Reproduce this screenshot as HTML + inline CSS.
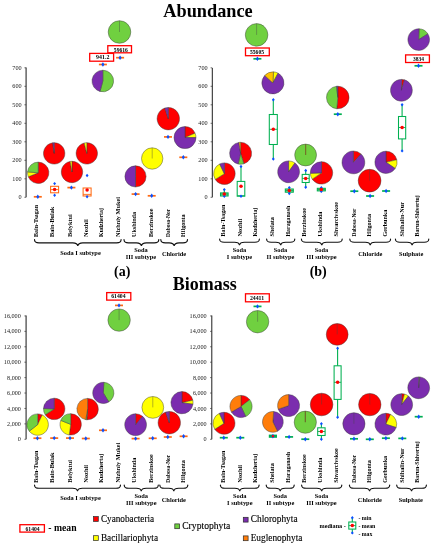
<!DOCTYPE html><html><head><meta charset="utf-8"><title>Abundance and Biomass</title><style>html,body{margin:0;padding:0;background:#fff}svg{display:block}</style></head><body><svg width="433" height="550" viewBox="0 0 433 550"><rect width="433" height="550" fill="#fff"/>
<text x="208" y="16.5" font-size="18.3" font-weight="bold" text-anchor="middle" font-family="Liberation Serif, serif">Abundance</text>
<text x="204.8" y="289.6" font-size="18" font-weight="bold" text-anchor="middle" font-family="Liberation Serif, serif">Biomass</text>
<text x="122.2" y="275.8" font-size="14" font-weight="bold" text-anchor="middle" font-family="Liberation Serif, serif">(a)</text>
<text x="318.2" y="275.8" font-size="14" font-weight="bold" text-anchor="middle" font-family="Liberation Serif, serif">(b)</text>
<line x1="26.1" y1="67.6" x2="26.1" y2="197.3" stroke="#444" stroke-width="1.25"/>
<line x1="24.400000000000002" y1="197.30" x2="26.1" y2="197.30" stroke="#333" stroke-width="0.7"/>
<text x="21.6" y="199.40" font-size="6.2" text-anchor="end" fill="#1c1c1c" font-family="Liberation Serif, serif">0</text>
<line x1="24.400000000000002" y1="178.80" x2="26.1" y2="178.80" stroke="#333" stroke-width="0.7"/>
<text x="21.6" y="180.90" font-size="6.2" text-anchor="end" fill="#1c1c1c" font-family="Liberation Serif, serif">100</text>
<line x1="24.400000000000002" y1="160.30" x2="26.1" y2="160.30" stroke="#333" stroke-width="0.7"/>
<text x="21.6" y="162.40" font-size="6.2" text-anchor="end" fill="#1c1c1c" font-family="Liberation Serif, serif">200</text>
<line x1="24.400000000000002" y1="141.80" x2="26.1" y2="141.80" stroke="#333" stroke-width="0.7"/>
<text x="21.6" y="143.90" font-size="6.2" text-anchor="end" fill="#1c1c1c" font-family="Liberation Serif, serif">300</text>
<line x1="24.400000000000002" y1="123.30" x2="26.1" y2="123.30" stroke="#333" stroke-width="0.7"/>
<text x="21.6" y="125.40" font-size="6.2" text-anchor="end" fill="#1c1c1c" font-family="Liberation Serif, serif">400</text>
<line x1="24.400000000000002" y1="104.80" x2="26.1" y2="104.80" stroke="#333" stroke-width="0.7"/>
<text x="21.6" y="106.90" font-size="6.2" text-anchor="end" fill="#1c1c1c" font-family="Liberation Serif, serif">500</text>
<line x1="24.400000000000002" y1="86.30" x2="26.1" y2="86.30" stroke="#333" stroke-width="0.7"/>
<text x="21.6" y="88.40" font-size="6.2" text-anchor="end" fill="#1c1c1c" font-family="Liberation Serif, serif">600</text>
<line x1="24.400000000000002" y1="67.80" x2="26.1" y2="67.80" stroke="#333" stroke-width="0.7"/>
<text x="21.6" y="69.90" font-size="6.2" text-anchor="end" fill="#1c1c1c" font-family="Liberation Serif, serif">700</text>
<line x1="212.3" y1="68" x2="212.3" y2="197.3" stroke="#111" stroke-width="0.95"/>
<line x1="210.60000000000002" y1="197.30" x2="212.3" y2="197.30" stroke="#333" stroke-width="0.7"/>
<text x="207.6" y="199.40" font-size="6.2" text-anchor="end" fill="#1c1c1c" font-family="Liberation Serif, serif">0</text>
<line x1="210.60000000000002" y1="178.80" x2="212.3" y2="178.80" stroke="#333" stroke-width="0.7"/>
<text x="207.6" y="180.90" font-size="6.2" text-anchor="end" fill="#1c1c1c" font-family="Liberation Serif, serif">100</text>
<line x1="210.60000000000002" y1="160.30" x2="212.3" y2="160.30" stroke="#333" stroke-width="0.7"/>
<text x="207.6" y="162.40" font-size="6.2" text-anchor="end" fill="#1c1c1c" font-family="Liberation Serif, serif">200</text>
<line x1="210.60000000000002" y1="141.80" x2="212.3" y2="141.80" stroke="#333" stroke-width="0.7"/>
<text x="207.6" y="143.90" font-size="6.2" text-anchor="end" fill="#1c1c1c" font-family="Liberation Serif, serif">300</text>
<line x1="210.60000000000002" y1="123.30" x2="212.3" y2="123.30" stroke="#333" stroke-width="0.7"/>
<text x="207.6" y="125.40" font-size="6.2" text-anchor="end" fill="#1c1c1c" font-family="Liberation Serif, serif">400</text>
<line x1="210.60000000000002" y1="104.80" x2="212.3" y2="104.80" stroke="#333" stroke-width="0.7"/>
<text x="207.6" y="106.90" font-size="6.2" text-anchor="end" fill="#1c1c1c" font-family="Liberation Serif, serif">500</text>
<line x1="210.60000000000002" y1="86.30" x2="212.3" y2="86.30" stroke="#333" stroke-width="0.7"/>
<text x="207.6" y="88.40" font-size="6.2" text-anchor="end" fill="#1c1c1c" font-family="Liberation Serif, serif">600</text>
<line x1="210.60000000000002" y1="67.80" x2="212.3" y2="67.80" stroke="#333" stroke-width="0.7"/>
<text x="207.6" y="69.90" font-size="6.2" text-anchor="end" fill="#1c1c1c" font-family="Liberation Serif, serif">700</text>
<line x1="26.1" y1="315.5" x2="26.1" y2="439.3" stroke="#444" stroke-width="1.25"/>
<line x1="24.400000000000002" y1="439.30" x2="26.1" y2="439.30" stroke="#333" stroke-width="0.7"/>
<text x="20.8" y="441.40" font-size="6.2" text-anchor="end" fill="#1c1c1c" font-family="Liberation Serif, serif">0</text>
<line x1="24.400000000000002" y1="423.88" x2="26.1" y2="423.88" stroke="#333" stroke-width="0.7"/>
<text x="20.8" y="425.98" font-size="6.2" text-anchor="end" fill="#1c1c1c" textLength="13.7" lengthAdjust="spacingAndGlyphs" font-family="Liberation Serif, serif">2,000</text>
<line x1="24.400000000000002" y1="408.46" x2="26.1" y2="408.46" stroke="#333" stroke-width="0.7"/>
<text x="20.8" y="410.56" font-size="6.2" text-anchor="end" fill="#1c1c1c" textLength="13.7" lengthAdjust="spacingAndGlyphs" font-family="Liberation Serif, serif">4,000</text>
<line x1="24.400000000000002" y1="393.04" x2="26.1" y2="393.04" stroke="#333" stroke-width="0.7"/>
<text x="20.8" y="395.14" font-size="6.2" text-anchor="end" fill="#1c1c1c" textLength="13.7" lengthAdjust="spacingAndGlyphs" font-family="Liberation Serif, serif">6,000</text>
<line x1="24.400000000000002" y1="377.62" x2="26.1" y2="377.62" stroke="#333" stroke-width="0.7"/>
<text x="20.8" y="379.72" font-size="6.2" text-anchor="end" fill="#1c1c1c" textLength="13.7" lengthAdjust="spacingAndGlyphs" font-family="Liberation Serif, serif">8,000</text>
<line x1="24.400000000000002" y1="362.20" x2="26.1" y2="362.20" stroke="#333" stroke-width="0.7"/>
<text x="20.8" y="364.30" font-size="6.2" text-anchor="end" fill="#1c1c1c" textLength="17.0" lengthAdjust="spacingAndGlyphs" font-family="Liberation Serif, serif">10,000</text>
<line x1="24.400000000000002" y1="346.78" x2="26.1" y2="346.78" stroke="#333" stroke-width="0.7"/>
<text x="20.8" y="348.88" font-size="6.2" text-anchor="end" fill="#1c1c1c" textLength="17.0" lengthAdjust="spacingAndGlyphs" font-family="Liberation Serif, serif">12,000</text>
<line x1="24.400000000000002" y1="331.36" x2="26.1" y2="331.36" stroke="#333" stroke-width="0.7"/>
<text x="20.8" y="333.46" font-size="6.2" text-anchor="end" fill="#1c1c1c" textLength="17.0" lengthAdjust="spacingAndGlyphs" font-family="Liberation Serif, serif">14,000</text>
<line x1="24.400000000000002" y1="315.94" x2="26.1" y2="315.94" stroke="#333" stroke-width="0.7"/>
<text x="20.8" y="318.04" font-size="6.2" text-anchor="end" fill="#1c1c1c" textLength="17.0" lengthAdjust="spacingAndGlyphs" font-family="Liberation Serif, serif">16,000</text>
<line x1="211.8" y1="315.5" x2="211.8" y2="439.3" stroke="#111" stroke-width="0.95"/>
<line x1="210.10000000000002" y1="439.30" x2="211.8" y2="439.30" stroke="#333" stroke-width="0.7"/>
<text x="206.6" y="441.40" font-size="6.2" text-anchor="end" fill="#1c1c1c" font-family="Liberation Serif, serif">0</text>
<line x1="210.10000000000002" y1="423.88" x2="211.8" y2="423.88" stroke="#333" stroke-width="0.7"/>
<text x="206.6" y="425.98" font-size="6.2" text-anchor="end" fill="#1c1c1c" textLength="13.7" lengthAdjust="spacingAndGlyphs" font-family="Liberation Serif, serif">2,000</text>
<line x1="210.10000000000002" y1="408.46" x2="211.8" y2="408.46" stroke="#333" stroke-width="0.7"/>
<text x="206.6" y="410.56" font-size="6.2" text-anchor="end" fill="#1c1c1c" textLength="13.7" lengthAdjust="spacingAndGlyphs" font-family="Liberation Serif, serif">4,000</text>
<line x1="210.10000000000002" y1="393.04" x2="211.8" y2="393.04" stroke="#333" stroke-width="0.7"/>
<text x="206.6" y="395.14" font-size="6.2" text-anchor="end" fill="#1c1c1c" textLength="13.7" lengthAdjust="spacingAndGlyphs" font-family="Liberation Serif, serif">6,000</text>
<line x1="210.10000000000002" y1="377.62" x2="211.8" y2="377.62" stroke="#333" stroke-width="0.7"/>
<text x="206.6" y="379.72" font-size="6.2" text-anchor="end" fill="#1c1c1c" textLength="13.7" lengthAdjust="spacingAndGlyphs" font-family="Liberation Serif, serif">8,000</text>
<line x1="210.10000000000002" y1="362.20" x2="211.8" y2="362.20" stroke="#333" stroke-width="0.7"/>
<text x="206.6" y="364.30" font-size="6.2" text-anchor="end" fill="#1c1c1c" textLength="17.0" lengthAdjust="spacingAndGlyphs" font-family="Liberation Serif, serif">10,000</text>
<line x1="210.10000000000002" y1="346.78" x2="211.8" y2="346.78" stroke="#333" stroke-width="0.7"/>
<text x="206.6" y="348.88" font-size="6.2" text-anchor="end" fill="#1c1c1c" textLength="17.0" lengthAdjust="spacingAndGlyphs" font-family="Liberation Serif, serif">12,000</text>
<line x1="210.10000000000002" y1="331.36" x2="211.8" y2="331.36" stroke="#333" stroke-width="0.7"/>
<text x="206.6" y="333.46" font-size="6.2" text-anchor="end" fill="#1c1c1c" textLength="17.0" lengthAdjust="spacingAndGlyphs" font-family="Liberation Serif, serif">14,000</text>
<line x1="210.10000000000002" y1="315.94" x2="211.8" y2="315.94" stroke="#333" stroke-width="0.7"/>
<text x="206.6" y="318.04" font-size="6.2" text-anchor="end" fill="#1c1c1c" textLength="17.0" lengthAdjust="spacingAndGlyphs" font-family="Liberation Serif, serif">16,000</text>
<rect x="33.80" y="195.95" width="8" height="1.7" fill="#FF6A13"/>
<path d="M37.80,194.60 L39.35,196.80 L37.80,199.00 L36.25,196.80 Z" fill="#0A50FF"/>
<rect x="50.60" y="186.3" width="8" height="6.50" fill="#fff" stroke="#FF6A13" stroke-width="1.05"/>
<line x1="50.60" y1="189.6" x2="58.60" y2="189.6" stroke="#FF6A13" stroke-width="0.9"/>
<path d="M54.60,181.90 L56.05,183.60 L54.60,185.30 L53.16,183.60 Z" fill="#0A50FF"/>
<path d="M54.60,193.50 L56.05,195.20 L54.60,196.90 L53.16,195.20 Z" fill="#0A50FF"/>
<circle cx="54.6" cy="189.6" r="1.75" fill="#FF0000"/>
<rect x="67.40" y="186.75" width="8" height="1.7" fill="#FF6A13"/>
<path d="M71.40,185.40 L72.95,187.60 L71.40,189.80 L69.85,187.60 Z" fill="#0A50FF"/>
<rect x="83.10" y="188" width="8" height="8.00" fill="#fff" stroke="#FF6A13" stroke-width="1.05"/>
<line x1="83.10" y1="194.4" x2="91.10" y2="194.4" stroke="#FF6A13" stroke-width="0.9"/>
<path d="M87.10,173.80 L88.54,175.50 L87.10,177.20 L85.66,175.50 Z" fill="#0A50FF"/>
<path d="M87.10,195.10 L88.54,196.80 L87.10,198.50 L85.66,196.80 Z" fill="#0A50FF"/>
<circle cx="87.1" cy="190" r="1.75" fill="#FF0000"/>
<rect x="98.90" y="63.65" width="8" height="1.7" fill="#FF6A13"/>
<path d="M102.90,62.30 L104.45,64.50 L102.90,66.70 L101.35,64.50 Z" fill="#0A50FF"/>
<rect x="116.10" y="56.85" width="8" height="1.7" fill="#FF6A13"/>
<path d="M120.10,55.50 L121.65,57.70 L120.10,59.90 L118.55,57.70 Z" fill="#0A50FF"/>
<rect x="131.60" y="193.25" width="8" height="1.7" fill="#FF6A13"/>
<path d="M135.60,191.90 L137.15,194.10 L135.60,196.30 L134.05,194.10 Z" fill="#0A50FF"/>
<rect x="147.70" y="194.95" width="8" height="1.7" fill="#FF6A13"/>
<path d="M151.70,193.60 L153.25,195.80 L151.70,198.00 L150.15,195.80 Z" fill="#0A50FF"/>
<rect x="164.00" y="136.05" width="8" height="1.7" fill="#FF6A13"/>
<path d="M168.00,134.70 L169.55,136.90 L168.00,139.10 L166.45,136.90 Z" fill="#0A50FF"/>
<rect x="179.30" y="156.45" width="8" height="1.7" fill="#FF6A13"/>
<path d="M183.30,155.10 L184.85,157.30 L183.30,159.50 L181.75,157.30 Z" fill="#0A50FF"/>
<path d="M38.20,172.80 L38.20,162.10 A10.7,10.7 0 1 1 28.28,176.81 Z" fill="#FF0000" stroke="#3a3a3a" stroke-width="0.45" stroke-linejoin="round"/>
<path d="M38.20,172.80 L28.28,176.81 A10.7,10.7 0 0 1 27.54,171.87 Z" fill="#FFFF00" stroke="#3a3a3a" stroke-width="0.45" stroke-linejoin="round"/>
<path d="M38.20,172.80 L27.54,171.87 A10.7,10.7 0 0 1 38.20,162.10 Z" fill="#70D040" stroke="#3a3a3a" stroke-width="0.45" stroke-linejoin="round"/>
<path d="M54.20,153.40 L54.20,142.70 A10.7,10.7 0 1 1 52.71,142.80 Z" fill="#FF0000" stroke="#3a3a3a" stroke-width="0.45" stroke-linejoin="round"/>
<path d="M54.20,153.40 L52.71,142.80 A10.7,10.7 0 0 1 54.20,142.70 Z" fill="#7B2DAE" stroke="#3a3a3a" stroke-width="0.45" stroke-linejoin="round"/>
<path d="M72.00,172.00 L72.00,161.30 A10.7,10.7 0 1 1 70.14,161.46 Z" fill="#FF0000" stroke="#3a3a3a" stroke-width="0.45" stroke-linejoin="round"/>
<path d="M72.00,172.00 L70.14,161.46 A10.7,10.7 0 0 1 72.00,161.30 Z" fill="#FFFF00" stroke="#3a3a3a" stroke-width="0.45" stroke-linejoin="round"/>
<path d="M86.80,153.40 L86.80,142.70 A10.7,10.7 0 1 1 84.21,143.02 Z" fill="#FF0000" stroke="#3a3a3a" stroke-width="0.45" stroke-linejoin="round"/>
<path d="M86.80,153.40 L84.21,143.02 A10.7,10.7 0 0 1 86.80,142.70 Z" fill="#FFFF00" stroke="#3a3a3a" stroke-width="0.45" stroke-linejoin="round"/>
<path d="M102.80,81.00 L102.80,70.20 A10.8,10.8 0 1 1 100.00,91.43 Z" fill="#70D040" stroke="#3a3a3a" stroke-width="0.45" stroke-linejoin="round"/>
<path d="M102.80,81.00 L100.00,91.43 A10.8,10.8 0 0 1 102.80,70.20 Z" fill="#7B2DAE" stroke="#3a3a3a" stroke-width="0.45" stroke-linejoin="round"/>
<circle cx="119.5" cy="32" r="11.3" fill="#70D040" stroke="#3a3a3a" stroke-width="0.45"/>
<line x1="119.5" y1="32" x2="119.5" y2="20.7" stroke="#444" stroke-width="0.4"/>
<path d="M135.50,176.40 L135.50,165.80 A10.6,10.6 0 0 1 135.50,187.00 Z" fill="#FF0000" stroke="#3a3a3a" stroke-width="0.45" stroke-linejoin="round"/>
<path d="M135.50,176.40 L135.50,187.00 A10.6,10.6 0 0 1 135.50,165.80 Z" fill="#7B2DAE" stroke="#3a3a3a" stroke-width="0.45" stroke-linejoin="round"/>
<circle cx="152.2" cy="158.5" r="10.7" fill="#FFFF00" stroke="#3a3a3a" stroke-width="0.45"/>
<line x1="152.2" y1="158.5" x2="152.2" y2="147.8" stroke="#444" stroke-width="0.4"/>
<path d="M168.30,118.70 L168.30,107.50 A11.2,11.2 0 1 1 164.84,108.05 Z" fill="#FF0000" stroke="#3a3a3a" stroke-width="0.45" stroke-linejoin="round"/>
<path d="M168.30,118.70 L164.84,108.05 A11.2,11.2 0 0 1 168.30,107.50 Z" fill="#7B2DAE" stroke="#3a3a3a" stroke-width="0.45" stroke-linejoin="round"/>
<path d="M185.00,137.60 L185.00,126.60 A11,11 0 0 1 195.05,133.13 Z" fill="#FF0000" stroke="#3a3a3a" stroke-width="0.45" stroke-linejoin="round"/>
<path d="M185.00,137.60 L195.05,133.13 A11,11 0 0 1 196.00,137.60 Z" fill="#FFFF00" stroke="#3a3a3a" stroke-width="0.45" stroke-linejoin="round"/>
<path d="M185.00,137.60 L196.00,137.60 A11,11 0 1 1 185.00,126.60 Z" fill="#7B2DAE" stroke="#3a3a3a" stroke-width="0.45" stroke-linejoin="round"/>
<rect x="107.8" y="45.7" width="23.70" height="7.10" fill="#fff" stroke="#FF0000" stroke-width="1.3"/>
<text x="113.85" y="52.10" font-size="5.8" font-weight="bold" textLength="14.1" lengthAdjust="spacingAndGlyphs" font-family="Liberation Serif, serif">59616</text>
<rect x="89.7" y="53.4" width="23.90" height="7.80" fill="#fff" stroke="#FF0000" stroke-width="1.3"/>
<text x="96.05" y="59.10" font-size="5.8" font-weight="bold" textLength="13.3" lengthAdjust="spacingAndGlyphs" font-family="Liberation Serif, serif">941.2</text>
<text transform="translate(38.10,236.90) rotate(-90)" font-size="7" font-weight="bold" textLength="31.9" lengthAdjust="spacingAndGlyphs" font-family="Liberation Serif, serif">Bain-Tsagan</text>
<text transform="translate(54.30,236.90) rotate(-90)" font-size="7" font-weight="bold" textLength="30.1" lengthAdjust="spacingAndGlyphs" font-family="Liberation Serif, serif">Bain-Bulak</text>
<text transform="translate(71.80,236.90) rotate(-90)" font-size="7" font-weight="bold" textLength="22.6" lengthAdjust="spacingAndGlyphs" font-family="Liberation Serif, serif">Belyktui</text>
<text transform="translate(88.20,236.90) rotate(-90)" font-size="7" font-weight="bold" textLength="17.7" lengthAdjust="spacingAndGlyphs" font-family="Liberation Serif, serif">Nozhii</text>
<text transform="translate(103.10,236.90) rotate(-90)" font-size="7" font-weight="bold" textLength="28.8" lengthAdjust="spacingAndGlyphs" font-family="Liberation Serif, serif">Kudzhertaj</text>
<text transform="translate(119.60,236.90) rotate(-90)" font-size="7" font-weight="bold" textLength="39.9" lengthAdjust="spacingAndGlyphs" font-family="Liberation Serif, serif">Nizhniy Mukei</text>
<text transform="translate(136.10,236.90) rotate(-90)" font-size="7" font-weight="bold" textLength="24.9" lengthAdjust="spacingAndGlyphs" font-family="Liberation Serif, serif">Ukshinda</text>
<text transform="translate(153.40,236.90) rotate(-90)" font-size="7" font-weight="bold" textLength="28.4" lengthAdjust="spacingAndGlyphs" font-family="Liberation Serif, serif">Berzinskoe</text>
<text transform="translate(169.80,236.90) rotate(-90)" font-size="7" font-weight="bold" textLength="27.9" lengthAdjust="spacingAndGlyphs" font-family="Liberation Serif, serif">Dabosa-Nor</text>
<text transform="translate(185.00,236.90) rotate(-90)" font-size="7" font-weight="bold" textLength="22.5" lengthAdjust="spacingAndGlyphs" font-family="Liberation Serif, serif">Hilgonta</text>
<path d="M34.50,239.60 C34.70,242.55 36.10,242.88 39.00,242.88 L72.80,242.88 C75.80,242.88 77.50,243.68 77.80,245.90 C78.10,243.68 79.80,242.88 82.80,242.88 L116.60,242.88 C119.50,242.88 120.90,242.55 121.10,239.60" fill="none" stroke="#111" stroke-width="1.15" stroke-linecap="round"/>
<text x="80.50" y="254.50" font-size="6.4" font-weight="bold" text-anchor="middle" font-family="Liberation Serif, serif">Soda I subtype</text>
<path d="M124.00,239.60 C124.20,242.55 125.60,242.88 128.50,242.88 L136.40,242.88 C139.40,242.88 141.10,243.68 141.40,245.90 C141.70,243.68 143.40,242.88 146.40,242.88 L154.30,242.88 C157.20,242.88 158.60,242.55 158.80,239.60" fill="none" stroke="#111" stroke-width="1.15" stroke-linecap="round"/>
<text x="141.00" y="252.35" font-size="6.4" font-weight="bold" text-anchor="middle" font-family="Liberation Serif, serif">Soda</text>
<text x="141.00" y="259.05" font-size="6.4" font-weight="bold" text-anchor="middle" font-family="Liberation Serif, serif">III subtype</text>
<path d="M160.80,239.60 C161.00,242.55 162.40,242.88 165.30,242.88 L169.15,242.88 C172.15,242.88 173.85,243.68 174.15,245.90 C174.45,243.68 176.15,242.88 179.15,242.88 L183.00,242.88 C185.90,242.88 187.30,242.55 187.50,239.60" fill="none" stroke="#111" stroke-width="1.15" stroke-linecap="round"/>
<text x="174.00" y="256.10" font-size="6.4" font-weight="bold" text-anchor="middle" font-family="Liberation Serif, serif">Chloride</text>
<line x1="224.3" y1="189.6" x2="224.3" y2="196.3" stroke="#00B050" stroke-width="1.1"/>
<rect x="220.50" y="192.9" width="7.6" height="3.10" fill="#8fd9ae" stroke="#00B050" stroke-width="1.05"/>
<line x1="220.50" y1="194.1" x2="228.10" y2="194.1" stroke="#00B050" stroke-width="0.9"/>
<path d="M224.30,187.90 L225.75,189.60 L224.30,191.30 L222.86,189.60 Z" fill="#0A50FF"/>
<path d="M224.30,194.60 L225.75,196.30 L224.30,198.00 L222.86,196.30 Z" fill="#0A50FF"/>
<circle cx="224.3" cy="194.1" r="1.75" fill="#FF0000"/>
<line x1="241" y1="166.5" x2="241" y2="196.2" stroke="#00B050" stroke-width="1.1"/>
<rect x="237.20" y="181.4" width="7.6" height="14.80" fill="#fff" stroke="#00B050" stroke-width="1.05"/>
<line x1="237.20" y1="195.7" x2="244.80" y2="195.7" stroke="#00B050" stroke-width="0.9"/>
<path d="M241.00,164.80 L242.44,166.50 L241.00,168.20 L239.56,166.50 Z" fill="#0A50FF"/>
<path d="M241.00,194.50 L242.44,196.20 L241.00,197.90 L239.56,196.20 Z" fill="#0A50FF"/>
<circle cx="241" cy="186.3" r="1.75" fill="#FF0000"/>
<rect x="253.40" y="57.95" width="8" height="1.7" fill="#00B050"/>
<path d="M257.40,56.60 L258.95,58.80 L257.40,61.00 L255.85,58.80 Z" fill="#0A50FF"/>
<line x1="273.3" y1="99.7" x2="273.3" y2="159" stroke="#00B050" stroke-width="1.1"/>
<rect x="269.30" y="114.5" width="8" height="30.00" fill="#fff" stroke="#00B050" stroke-width="1.05"/>
<line x1="269.30" y1="129.3" x2="277.30" y2="129.3" stroke="#00B050" stroke-width="0.9"/>
<path d="M273.30,98.00 L274.75,99.70 L273.30,101.40 L271.86,99.70 Z" fill="#0A50FF"/>
<path d="M273.30,157.30 L274.75,159.00 L273.30,160.70 L271.86,159.00 Z" fill="#0A50FF"/>
<circle cx="273.3" cy="129.3" r="1.75" fill="#FF0000"/>
<line x1="289.3" y1="187.6" x2="289.3" y2="193.6" stroke="#00B050" stroke-width="1.1"/>
<rect x="285.30" y="189" width="8" height="3.20" fill="#8fd9ae" stroke="#00B050" stroke-width="1.05"/>
<line x1="285.30" y1="190.6" x2="293.30" y2="190.6" stroke="#00B050" stroke-width="0.9"/>
<path d="M289.30,185.90 L290.75,187.60 L289.30,189.30 L287.86,187.60 Z" fill="#0A50FF"/>
<path d="M289.30,191.90 L290.75,193.60 L289.30,195.30 L287.86,193.60 Z" fill="#0A50FF"/>
<circle cx="289.3" cy="190.6" r="1.75" fill="#FF0000"/>
<line x1="305.7" y1="170.5" x2="305.7" y2="187.3" stroke="#00B050" stroke-width="1.1"/>
<rect x="302.20" y="174.4" width="7" height="8.10" fill="#fff" stroke="#00B050" stroke-width="1.05"/>
<line x1="302.20" y1="178.4" x2="309.20" y2="178.4" stroke="#00B050" stroke-width="0.9"/>
<path d="M305.70,168.80 L307.14,170.50 L305.70,172.20 L304.25,170.50 Z" fill="#0A50FF"/>
<path d="M305.70,185.60 L307.14,187.30 L305.70,189.00 L304.25,187.30 Z" fill="#0A50FF"/>
<circle cx="305.7" cy="178.4" r="1.75" fill="#FF0000"/>
<line x1="321.3" y1="187.8" x2="321.3" y2="191.4" stroke="#00B050" stroke-width="1.1"/>
<rect x="317.30" y="188.3" width="8" height="2.60" fill="#8fd9ae" stroke="#00B050" stroke-width="1.05"/>
<line x1="317.30" y1="189.6" x2="325.30" y2="189.6" stroke="#00B050" stroke-width="0.9"/>
<path d="M321.30,186.10 L322.75,187.80 L321.30,189.50 L319.86,187.80 Z" fill="#0A50FF"/>
<path d="M321.30,189.70 L322.75,191.40 L321.30,193.10 L319.86,191.40 Z" fill="#0A50FF"/>
<circle cx="321.3" cy="189.6" r="1.75" fill="#FF0000"/>
<rect x="333.80" y="113.35" width="8" height="1.7" fill="#00B050"/>
<path d="M337.80,112.00 L339.35,114.20 L337.80,116.40 L336.25,114.20 Z" fill="#0A50FF"/>
<rect x="350.30" y="190.35" width="8" height="1.7" fill="#00B050"/>
<path d="M354.30,189.00 L355.85,191.20 L354.30,193.40 L352.75,191.20 Z" fill="#0A50FF"/>
<rect x="366.10" y="195.15" width="8" height="1.7" fill="#00B050"/>
<path d="M370.10,193.80 L371.65,196.00 L370.10,198.20 L368.55,196.00 Z" fill="#0A50FF"/>
<rect x="382.10" y="190.15" width="8" height="1.7" fill="#00B050"/>
<path d="M386.10,188.80 L387.65,191.00 L386.10,193.20 L384.55,191.00 Z" fill="#0A50FF"/>
<line x1="402.1" y1="104.8" x2="402.1" y2="150.9" stroke="#00B050" stroke-width="1.1"/>
<rect x="398.50" y="116.5" width="7.2" height="22.40" fill="#fff" stroke="#00B050" stroke-width="1.05"/>
<line x1="398.50" y1="127.5" x2="405.70" y2="127.5" stroke="#00B050" stroke-width="0.9"/>
<path d="M402.10,103.10 L403.55,104.80 L402.10,106.50 L400.66,104.80 Z" fill="#0A50FF"/>
<path d="M402.10,149.20 L403.55,150.90 L402.10,152.60 L400.66,150.90 Z" fill="#0A50FF"/>
<circle cx="402.1" cy="127.5" r="1.75" fill="#FF0000"/>
<rect x="414.50" y="64.95" width="8" height="1.7" fill="#00B050"/>
<path d="M418.50,63.60 L420.05,65.80 L418.50,68.00 L416.95,65.80 Z" fill="#0A50FF"/>
<path d="M224.40,173.70 L224.40,162.90 A10.8,10.8 0 1 1 215.24,179.42 Z" fill="#FF0000" stroke="#3a3a3a" stroke-width="0.45" stroke-linejoin="round"/>
<path d="M224.40,173.70 L215.24,179.42 A10.8,10.8 0 0 1 219.67,163.99 Z" fill="#FFFF00" stroke="#3a3a3a" stroke-width="0.45" stroke-linejoin="round"/>
<path d="M224.40,173.70 L219.67,163.99 A10.8,10.8 0 0 1 224.40,162.90 Z" fill="#7B2DAE" stroke="#3a3a3a" stroke-width="0.45" stroke-linejoin="round"/>
<path d="M240.60,153.30 L240.60,142.30 A11,11 0 0 1 243.82,163.82 Z" fill="#FF0000" stroke="#3a3a3a" stroke-width="0.45" stroke-linejoin="round"/>
<path d="M240.60,153.30 L243.82,163.82 A11,11 0 0 1 238.13,164.02 Z" fill="#70D040" stroke="#3a3a3a" stroke-width="0.45" stroke-linejoin="round"/>
<path d="M240.60,153.30 L238.13,164.02 A11,11 0 0 1 238.88,142.44 Z" fill="#7B2DAE" stroke="#3a3a3a" stroke-width="0.45" stroke-linejoin="round"/>
<path d="M240.60,153.30 L238.88,142.44 A11,11 0 0 1 240.60,142.30 Z" fill="#FFC000" stroke="#3a3a3a" stroke-width="0.45" stroke-linejoin="round"/>
<circle cx="256.6" cy="34.9" r="11.3" fill="#70D040" stroke="#3a3a3a" stroke-width="0.45"/>
<line x1="256.6" y1="34.9" x2="256.6" y2="23.599999999999998" stroke="#444" stroke-width="0.4"/>
<path d="M272.90,82.90 L273.48,71.87 A11.05,11.05 0 0 1 278.09,73.14 Z" fill="#FFFF00" stroke="#3a3a3a" stroke-width="0.45" stroke-linejoin="round"/>
<path d="M272.90,82.90 L278.09,73.14 A11.05,11.05 0 1 1 264.69,75.51 Z" fill="#7B2DAE" stroke="#3a3a3a" stroke-width="0.45" stroke-linejoin="round"/>
<path d="M272.90,82.90 L264.69,75.51 A11.05,11.05 0 0 1 273.48,71.87 Z" fill="#FFC000" stroke="#3a3a3a" stroke-width="0.45" stroke-linejoin="round"/>
<path d="M288.60,171.80 L288.60,160.90 A10.9,10.9 0 0 1 295.01,162.98 Z" fill="#FFFF00" stroke="#3a3a3a" stroke-width="0.45" stroke-linejoin="round"/>
<path d="M288.60,171.80 L295.01,162.98 A10.9,10.9 0 1 1 288.60,160.90 Z" fill="#7B2DAE" stroke="#3a3a3a" stroke-width="0.45" stroke-linejoin="round"/>
<circle cx="305.6" cy="155" r="10.9" fill="#70D040" stroke="#3a3a3a" stroke-width="0.45"/>
<line x1="305.6" y1="155" x2="305.6" y2="144.1" stroke="#444" stroke-width="0.4"/>
<line x1="305.7" y1="155" x2="305.7" y2="144.3" stroke="#8a4a10" stroke-width="0.6"/>
<path d="M321.50,172.90 L321.50,161.70 A11.2,11.2 0 1 1 312.21,179.16 Z" fill="#FF0000" stroke="#3a3a3a" stroke-width="0.45" stroke-linejoin="round"/>
<path d="M321.50,172.90 L312.21,179.16 A11.2,11.2 0 0 1 310.31,173.29 Z" fill="#FFFF00" stroke="#3a3a3a" stroke-width="0.45" stroke-linejoin="round"/>
<path d="M321.50,172.90 L310.31,173.29 A11.2,11.2 0 0 1 321.50,161.70 Z" fill="#7B2DAE" stroke="#3a3a3a" stroke-width="0.45" stroke-linejoin="round"/>
<path d="M337.80,97.50 L337.80,86.20 A11.3,11.3 0 1 1 336.82,108.76 Z" fill="#FF0000" stroke="#3a3a3a" stroke-width="0.45" stroke-linejoin="round"/>
<path d="M337.80,97.50 L336.82,108.76 A11.3,11.3 0 0 1 336.62,86.26 Z" fill="#70D040" stroke="#3a3a3a" stroke-width="0.45" stroke-linejoin="round"/>
<path d="M337.80,97.50 L336.62,86.26 A11.3,11.3 0 0 1 337.80,86.20 Z" fill="#7B2DAE" stroke="#3a3a3a" stroke-width="0.45" stroke-linejoin="round"/>
<path d="M353.40,162.40 L353.40,151.00 A11.4,11.4 0 0 1 361.03,153.93 Z" fill="#FF0000" stroke="#3a3a3a" stroke-width="0.45" stroke-linejoin="round"/>
<path d="M353.40,162.40 L361.03,153.93 A11.4,11.4 0 1 1 353.40,151.00 Z" fill="#7B2DAE" stroke="#3a3a3a" stroke-width="0.45" stroke-linejoin="round"/>
<circle cx="369.6" cy="180.7" r="11.4" fill="#FF0000" stroke="#3a3a3a" stroke-width="0.45"/>
<line x1="369.6" y1="180.7" x2="369.6" y2="169.29999999999998" stroke="#444" stroke-width="0.4"/>
<path d="M386.00,162.30 L386.00,151.20 A11.1,11.1 0 0 1 396.82,159.80 Z" fill="#FF0000" stroke="#3a3a3a" stroke-width="0.45" stroke-linejoin="round"/>
<path d="M386.00,162.30 L396.82,159.80 A11.1,11.1 0 0 1 395.20,168.51 Z" fill="#FFFF00" stroke="#3a3a3a" stroke-width="0.45" stroke-linejoin="round"/>
<path d="M386.00,162.30 L395.20,168.51 A11.1,11.1 0 1 1 386.00,151.20 Z" fill="#7B2DAE" stroke="#3a3a3a" stroke-width="0.45" stroke-linejoin="round"/>
<path d="M401.40,90.30 L401.78,79.41 A10.9,10.9 0 0 1 404.40,79.82 Z" fill="#FF0000" stroke="#3a3a3a" stroke-width="0.45" stroke-linejoin="round"/>
<path d="M401.40,90.30 L404.40,79.82 A10.9,10.9 0 1 1 401.78,79.41 Z" fill="#7B2DAE" stroke="#3a3a3a" stroke-width="0.45" stroke-linejoin="round"/>
<path d="M418.70,39.60 L419.08,28.81 A10.8,10.8 0 0 1 427.86,33.88 Z" fill="#70D040" stroke="#3a3a3a" stroke-width="0.45" stroke-linejoin="round"/>
<path d="M418.70,39.60 L427.86,33.88 A10.8,10.8 0 1 1 419.08,28.81 Z" fill="#7B2DAE" stroke="#3a3a3a" stroke-width="0.45" stroke-linejoin="round"/>
<rect x="245.5" y="48" width="23.80" height="7.70" fill="#fff" stroke="#FF0000" stroke-width="1.3"/>
<text x="249.95" y="54.10" font-size="5.8" font-weight="bold" textLength="14.1" lengthAdjust="spacingAndGlyphs" font-family="Liberation Serif, serif">55605</text>
<rect x="405.6" y="54.9" width="23.80" height="7.60" fill="#fff" stroke="#FF0000" stroke-width="1.3"/>
<text x="412.90" y="60.80" font-size="5.8" font-weight="bold" textLength="11" lengthAdjust="spacingAndGlyphs" font-family="Liberation Serif, serif">3834</text>
<text transform="translate(225.30,236.50) rotate(-90)" font-size="7" font-weight="bold" textLength="31.9" lengthAdjust="spacingAndGlyphs" font-family="Liberation Serif, serif">Bain-Tsagan</text>
<text transform="translate(242.30,236.50) rotate(-90)" font-size="7" font-weight="bold" textLength="17.7" lengthAdjust="spacingAndGlyphs" font-family="Liberation Serif, serif">Nozhii</text>
<text transform="translate(256.90,236.50) rotate(-90)" font-size="7" font-weight="bold" textLength="28.8" lengthAdjust="spacingAndGlyphs" font-family="Liberation Serif, serif">Kudzhertaj</text>
<text transform="translate(274.30,236.50) rotate(-90)" font-size="7" font-weight="bold" textLength="19.4" lengthAdjust="spacingAndGlyphs" font-family="Liberation Serif, serif">Shelata</text>
<text transform="translate(289.50,236.50) rotate(-90)" font-size="7" font-weight="bold" textLength="30.8" lengthAdjust="spacingAndGlyphs" font-family="Liberation Serif, serif">Haraganash</text>
<text transform="translate(306.20,236.50) rotate(-90)" font-size="7" font-weight="bold" textLength="28.4" lengthAdjust="spacingAndGlyphs" font-family="Liberation Serif, serif">Berzinskoe</text>
<text transform="translate(321.80,236.50) rotate(-90)" font-size="7" font-weight="bold" textLength="24.9" lengthAdjust="spacingAndGlyphs" font-family="Liberation Serif, serif">Ukshinda</text>
<text transform="translate(338.40,236.50) rotate(-90)" font-size="7" font-weight="bold" textLength="34.4" lengthAdjust="spacingAndGlyphs" font-family="Liberation Serif, serif">Shvarcivskoe</text>
<text transform="translate(355.50,236.50) rotate(-90)" font-size="7" font-weight="bold" textLength="27.9" lengthAdjust="spacingAndGlyphs" font-family="Liberation Serif, serif">Dabosa-Nor</text>
<text transform="translate(370.70,236.50) rotate(-90)" font-size="7" font-weight="bold" textLength="22.5" lengthAdjust="spacingAndGlyphs" font-family="Liberation Serif, serif">Hilgonta</text>
<text transform="translate(387.30,236.50) rotate(-90)" font-size="7" font-weight="bold" textLength="26.8" lengthAdjust="spacingAndGlyphs" font-family="Liberation Serif, serif">Gerbunka</text>
<text transform="translate(403.50,236.50) rotate(-90)" font-size="7" font-weight="bold" textLength="34.4" lengthAdjust="spacingAndGlyphs" font-family="Liberation Serif, serif">Shihalin-Nur</text>
<text transform="translate(419.10,236.50) rotate(-90)" font-size="7" font-weight="bold" textLength="41.3" lengthAdjust="spacingAndGlyphs" font-family="Liberation Serif, serif">Barun-Shivertuj</text>
<path d="M219.60,239.00 C219.80,241.90 221.20,242.22 224.10,242.22 L234.50,242.22 C237.50,242.22 239.20,243.02 239.50,245.20 C239.80,243.02 241.50,242.22 244.50,242.22 L254.90,242.22 C257.80,242.22 259.20,241.90 259.40,239.00" fill="none" stroke="#111" stroke-width="1.15" stroke-linecap="round"/>
<text x="239.50" y="252.15" font-size="6.4" font-weight="bold" text-anchor="middle" font-family="Liberation Serif, serif">Soda</text>
<text x="239.50" y="258.85" font-size="6.4" font-weight="bold" text-anchor="middle" font-family="Liberation Serif, serif">I subtype</text>
<path d="M266.60,239.00 C266.80,241.90 268.20,242.22 271.10,242.22 L275.70,242.22 C278.70,242.22 280.40,243.02 280.70,245.20 C281.00,243.02 282.70,242.22 285.70,242.22 L290.30,242.22 C293.20,242.22 294.60,241.90 294.80,239.00" fill="none" stroke="#111" stroke-width="1.15" stroke-linecap="round"/>
<text x="280.50" y="252.15" font-size="6.4" font-weight="bold" text-anchor="middle" font-family="Liberation Serif, serif">Soda</text>
<text x="280.50" y="258.85" font-size="6.4" font-weight="bold" text-anchor="middle" font-family="Liberation Serif, serif">II subtype</text>
<path d="M301.40,239.00 C301.60,241.90 303.00,242.22 305.90,242.22 L316.80,242.22 C319.80,242.22 321.50,243.02 321.80,245.20 C322.10,243.02 323.80,242.22 326.80,242.22 L337.70,242.22 C340.60,242.22 342.00,241.90 342.20,239.00" fill="none" stroke="#111" stroke-width="1.15" stroke-linecap="round"/>
<text x="321.50" y="252.15" font-size="6.4" font-weight="bold" text-anchor="middle" font-family="Liberation Serif, serif">Soda</text>
<text x="321.50" y="258.85" font-size="6.4" font-weight="bold" text-anchor="middle" font-family="Liberation Serif, serif">III subtype</text>
<path d="M349.80,239.00 C350.00,241.90 351.40,242.22 354.30,242.22 L365.20,242.22 C368.20,242.22 369.90,243.02 370.20,245.20 C370.50,243.02 372.20,242.22 375.20,242.22 L386.10,242.22 C389.00,242.22 390.40,241.90 390.60,239.00" fill="none" stroke="#111" stroke-width="1.15" stroke-linecap="round"/>
<text x="370.30" y="256.10" font-size="6.4" font-weight="bold" text-anchor="middle" font-family="Liberation Serif, serif">Chloride</text>
<path d="M395.40,239.00 C395.60,241.90 397.00,242.22 399.90,242.22 L407.10,242.22 C410.10,242.22 411.80,243.02 412.10,245.20 C412.40,243.02 414.10,242.22 417.10,242.22 L424.30,242.22 C427.20,242.22 428.60,241.90 428.80,239.00" fill="none" stroke="#111" stroke-width="1.15" stroke-linecap="round"/>
<text x="411.20" y="256.10" font-size="6.4" font-weight="bold" text-anchor="middle" font-family="Liberation Serif, serif">Sulphate</text>
<rect x="33.40" y="437.35" width="8" height="1.7" fill="#FF6A13"/>
<path d="M37.40,436.00 L38.95,438.20 L37.40,440.40 L35.85,438.20 Z" fill="#0A50FF"/>
<rect x="50.20" y="437.25" width="8" height="1.7" fill="#FF6A13"/>
<path d="M54.20,435.90 L55.75,438.10 L54.20,440.30 L52.65,438.10 Z" fill="#0A50FF"/>
<rect x="66.00" y="437.25" width="8" height="1.7" fill="#FF6A13"/>
<path d="M70.00,435.90 L71.55,438.10 L70.00,440.30 L68.45,438.10 Z" fill="#0A50FF"/>
<rect x="81.80" y="437.65" width="8" height="1.7" fill="#FF6A13"/>
<path d="M85.80,436.30 L87.35,438.50 L85.80,440.70 L84.25,438.50 Z" fill="#0A50FF"/>
<rect x="99.00" y="429.45" width="8" height="1.7" fill="#FF6A13"/>
<path d="M103.00,428.10 L104.55,430.30 L103.00,432.50 L101.45,430.30 Z" fill="#0A50FF"/>
<rect x="115.00" y="304.55" width="8" height="1.7" fill="#FF6A13"/>
<path d="M119.00,303.20 L120.55,305.40 L119.00,307.60 L117.45,305.40 Z" fill="#0A50FF"/>
<rect x="131.60" y="437.75" width="8" height="1.7" fill="#FF6A13"/>
<path d="M135.60,436.40 L137.15,438.60 L135.60,440.80 L134.05,438.60 Z" fill="#0A50FF"/>
<rect x="148.70" y="437.45" width="8" height="1.7" fill="#FF6A13"/>
<path d="M152.70,436.10 L154.25,438.30 L152.70,440.50 L151.15,438.30 Z" fill="#0A50FF"/>
<rect x="163.80" y="436.15" width="8" height="1.7" fill="#FF6A13"/>
<path d="M167.80,434.80 L169.35,437.00 L167.80,439.20 L166.25,437.00 Z" fill="#0A50FF"/>
<rect x="179.60" y="435.45" width="8" height="1.7" fill="#FF6A13"/>
<path d="M183.60,434.10 L185.15,436.30 L183.60,438.50 L182.05,436.30 Z" fill="#0A50FF"/>
<path d="M37.70,424.60 L37.70,413.90 A10.7,10.7 0 0 1 42.22,414.90 Z" fill="#FF0000" stroke="#3a3a3a" stroke-width="0.45" stroke-linejoin="round"/>
<path d="M37.70,424.60 L42.22,414.90 A10.7,10.7 0 1 1 29.27,431.19 Z" fill="#FFFF00" stroke="#3a3a3a" stroke-width="0.45" stroke-linejoin="round"/>
<path d="M37.70,424.60 L29.27,431.19 A10.7,10.7 0 0 1 37.70,413.90 Z" fill="#70D040" stroke="#3a3a3a" stroke-width="0.45" stroke-linejoin="round"/>
<path d="M54.20,408.90 L54.20,398.20 A10.7,10.7 0 1 1 45.23,414.73 Z" fill="#FF0000" stroke="#3a3a3a" stroke-width="0.45" stroke-linejoin="round"/>
<path d="M54.20,408.90 L45.23,414.73 A10.7,10.7 0 0 1 43.51,408.53 Z" fill="#70D040" stroke="#3a3a3a" stroke-width="0.45" stroke-linejoin="round"/>
<path d="M54.20,408.90 L43.51,408.53 A10.7,10.7 0 0 1 54.20,398.20 Z" fill="#7B2DAE" stroke="#3a3a3a" stroke-width="0.45" stroke-linejoin="round"/>
<path d="M70.70,424.40 L70.70,413.70 A10.7,10.7 0 1 1 69.21,435.00 Z" fill="#FF0000" stroke="#3a3a3a" stroke-width="0.45" stroke-linejoin="round"/>
<path d="M70.70,424.40 L69.21,435.00 A10.7,10.7 0 0 1 60.78,420.39 Z" fill="#FFFF00" stroke="#3a3a3a" stroke-width="0.45" stroke-linejoin="round"/>
<path d="M70.70,424.40 L60.78,420.39 A10.7,10.7 0 0 1 70.70,413.70 Z" fill="#70D040" stroke="#3a3a3a" stroke-width="0.45" stroke-linejoin="round"/>
<path d="M87.60,409.10 L87.60,398.40 A10.7,10.7 0 1 1 86.85,419.77 Z" fill="#FF0000" stroke="#3a3a3a" stroke-width="0.45" stroke-linejoin="round"/>
<path d="M87.60,409.10 L86.85,419.77 A10.7,10.7 0 0 1 85.74,419.64 Z" fill="#70D040" stroke="#3a3a3a" stroke-width="0.45" stroke-linejoin="round"/>
<path d="M87.60,409.10 L85.74,419.64 A10.7,10.7 0 0 1 87.60,398.40 Z" fill="#FF7D0A" stroke="#3a3a3a" stroke-width="0.45" stroke-linejoin="round"/>
<path d="M103.30,392.90 L103.85,382.31 A10.6,10.6 0 0 1 108.76,401.99 Z" fill="#70D040" stroke="#3a3a3a" stroke-width="0.45" stroke-linejoin="round"/>
<path d="M103.30,392.90 L108.76,401.99 A10.6,10.6 0 1 1 103.85,382.31 Z" fill="#7B2DAE" stroke="#3a3a3a" stroke-width="0.45" stroke-linejoin="round"/>
<circle cx="119.1" cy="320.1" r="11.2" fill="#70D040" stroke="#3a3a3a" stroke-width="0.45"/>
<line x1="119.1" y1="320.1" x2="119.1" y2="308.90000000000003" stroke="#444" stroke-width="0.4"/>
<path d="M135.60,424.70 L135.60,413.80 A10.9,10.9 0 0 1 142.61,416.35 Z" fill="#FF0000" stroke="#3a3a3a" stroke-width="0.45" stroke-linejoin="round"/>
<path d="M135.60,424.70 L142.61,416.35 A10.9,10.9 0 1 1 135.60,413.80 Z" fill="#7B2DAE" stroke="#3a3a3a" stroke-width="0.45" stroke-linejoin="round"/>
<circle cx="152.8" cy="407.4" r="10.9" fill="#FFFF00" stroke="#3a3a3a" stroke-width="0.45"/>
<line x1="152.8" y1="407.4" x2="152.8" y2="396.5" stroke="#444" stroke-width="0.4"/>
<path d="M169.30,422.70 L169.30,411.50 A11.2,11.2 0 1 1 165.65,412.11 Z" fill="#FF0000" stroke="#3a3a3a" stroke-width="0.45" stroke-linejoin="round"/>
<path d="M169.30,422.70 L165.65,412.11 A11.2,11.2 0 0 1 169.30,411.50 Z" fill="#7B2DAE" stroke="#3a3a3a" stroke-width="0.45" stroke-linejoin="round"/>
<path d="M182.00,402.70 L182.00,391.60 A11.1,11.1 0 0 1 192.82,400.20 Z" fill="#FF0000" stroke="#3a3a3a" stroke-width="0.45" stroke-linejoin="round"/>
<path d="M182.00,402.70 L192.82,400.20 A11.1,11.1 0 0 1 192.99,404.24 Z" fill="#FFFF00" stroke="#3a3a3a" stroke-width="0.45" stroke-linejoin="round"/>
<path d="M182.00,402.70 L192.99,404.24 A11.1,11.1 0 1 1 182.00,391.60 Z" fill="#7B2DAE" stroke="#3a3a3a" stroke-width="0.45" stroke-linejoin="round"/>
<rect x="106.7" y="292.6" width="24.10" height="7.50" fill="#fff" stroke="#FF0000" stroke-width="1.3"/>
<text x="111.25" y="297.90" font-size="5.8" font-weight="bold" textLength="14.3" lengthAdjust="spacingAndGlyphs" font-family="Liberation Serif, serif">61404</text>
<text transform="translate(38.10,482.70) rotate(-90)" font-size="7" font-weight="bold" textLength="31.9" lengthAdjust="spacingAndGlyphs" font-family="Liberation Serif, serif">Bain-Tsagan</text>
<text transform="translate(54.30,482.70) rotate(-90)" font-size="7" font-weight="bold" textLength="30.1" lengthAdjust="spacingAndGlyphs" font-family="Liberation Serif, serif">Bain-Bulak</text>
<text transform="translate(71.80,482.70) rotate(-90)" font-size="7" font-weight="bold" textLength="22.6" lengthAdjust="spacingAndGlyphs" font-family="Liberation Serif, serif">Belyktui</text>
<text transform="translate(88.20,482.70) rotate(-90)" font-size="7" font-weight="bold" textLength="17.7" lengthAdjust="spacingAndGlyphs" font-family="Liberation Serif, serif">Nozhii</text>
<text transform="translate(103.10,482.70) rotate(-90)" font-size="7" font-weight="bold" textLength="28.8" lengthAdjust="spacingAndGlyphs" font-family="Liberation Serif, serif">Kudzhertaj</text>
<text transform="translate(119.60,482.70) rotate(-90)" font-size="7" font-weight="bold" textLength="39.9" lengthAdjust="spacingAndGlyphs" font-family="Liberation Serif, serif">Nizhniy Mukei</text>
<text transform="translate(136.10,482.70) rotate(-90)" font-size="7" font-weight="bold" textLength="24.9" lengthAdjust="spacingAndGlyphs" font-family="Liberation Serif, serif">Ukshinda</text>
<text transform="translate(153.40,482.70) rotate(-90)" font-size="7" font-weight="bold" textLength="28.4" lengthAdjust="spacingAndGlyphs" font-family="Liberation Serif, serif">Berzinskoe</text>
<text transform="translate(169.80,482.70) rotate(-90)" font-size="7" font-weight="bold" textLength="27.9" lengthAdjust="spacingAndGlyphs" font-family="Liberation Serif, serif">Dabosa-Nor</text>
<text transform="translate(185.00,482.70) rotate(-90)" font-size="7" font-weight="bold" textLength="22.5" lengthAdjust="spacingAndGlyphs" font-family="Liberation Serif, serif">Hilgonta</text>
<path d="M34.50,485.10 C34.70,487.95 36.10,488.27 39.00,488.27 L72.50,488.27 C75.50,488.27 77.20,489.07 77.50,491.20 C77.80,489.07 79.50,488.27 82.50,488.27 L116.00,488.27 C118.90,488.27 120.30,487.95 120.50,485.10" fill="none" stroke="#111" stroke-width="1.15" stroke-linecap="round"/>
<text x="80.50" y="500.10" font-size="6.4" font-weight="bold" text-anchor="middle" font-family="Liberation Serif, serif">Soda I subtype</text>
<path d="M124.20,485.10 C124.40,487.95 125.80,488.27 128.70,488.27 L136.25,488.27 C139.25,488.27 140.95,489.07 141.25,491.20 C141.55,489.07 143.25,488.27 146.25,488.27 L153.80,488.27 C156.70,488.27 158.10,487.95 158.30,485.10" fill="none" stroke="#111" stroke-width="1.15" stroke-linecap="round"/>
<text x="141.30" y="498.45" font-size="6.4" font-weight="bold" text-anchor="middle" font-family="Liberation Serif, serif">Soda</text>
<text x="141.30" y="505.15" font-size="6.4" font-weight="bold" text-anchor="middle" font-family="Liberation Serif, serif">III subtype</text>
<path d="M159.80,485.10 C160.00,487.95 161.40,488.27 164.30,488.27 L168.80,488.27 C171.80,488.27 173.50,489.07 173.80,491.20 C174.10,489.07 175.80,488.27 178.80,488.27 L183.30,488.27 C186.20,488.27 187.60,487.95 187.80,485.10" fill="none" stroke="#111" stroke-width="1.15" stroke-linecap="round"/>
<text x="173.80" y="501.90" font-size="6.4" font-weight="bold" text-anchor="middle" font-family="Liberation Serif, serif">Chloride</text>
<rect x="219.80" y="436.85" width="8" height="1.7" fill="#00B050"/>
<path d="M223.80,435.50 L225.35,437.70 L223.80,439.90 L222.25,437.70 Z" fill="#0A50FF"/>
<rect x="236.30" y="436.85" width="8" height="1.7" fill="#00B050"/>
<path d="M240.30,435.50 L241.85,437.70 L240.30,439.90 L238.75,437.70 Z" fill="#0A50FF"/>
<rect x="253.50" y="305.55" width="8" height="1.7" fill="#00B050"/>
<path d="M257.50,304.20 L259.05,306.40 L257.50,308.60 L255.95,306.40 Z" fill="#0A50FF"/>
<rect x="268.8" y="434.6" width="8.2" height="3.2" fill="#00B050"/>
<path d="M272.90,433.80 L274.60,436.20 L272.90,438.60 L271.20,436.20 Z" fill="#0A50FF"/>
<circle cx="272.9" cy="436.2" r="1.15" fill="#FF0000"/>
<rect x="285.10" y="436.05" width="8" height="1.7" fill="#00B050"/>
<path d="M289.10,434.70 L290.65,436.90 L289.10,439.10 L287.55,436.90 Z" fill="#0A50FF"/>
<rect x="301.30" y="438.35" width="8" height="1.7" fill="#00B050"/>
<path d="M305.30,437.00 L306.85,439.20 L305.30,441.40 L303.75,439.20 Z" fill="#0A50FF"/>
<line x1="321.4" y1="423.8" x2="321.4" y2="439.3" stroke="#00B050" stroke-width="1.1"/>
<rect x="317.70" y="427.8" width="7.4" height="7.70" fill="#fff" stroke="#00B050" stroke-width="1.05"/>
<line x1="317.70" y1="431.5" x2="325.10" y2="431.5" stroke="#00B050" stroke-width="0.9"/>
<path d="M321.40,422.10 L322.84,423.80 L321.40,425.50 L319.95,423.80 Z" fill="#0A50FF"/>
<path d="M321.40,437.60 L322.84,439.30 L321.40,441.00 L319.95,439.30 Z" fill="#0A50FF"/>
<circle cx="321.4" cy="431.5" r="1.75" fill="#FF0000"/>
<line x1="337.6" y1="348.3" x2="337.6" y2="417.2" stroke="#00B050" stroke-width="1.1"/>
<rect x="334.10" y="365.8" width="7.0" height="33.60" fill="#fff" stroke="#00B050" stroke-width="1.05"/>
<line x1="334.10" y1="382.3" x2="341.10" y2="382.3" stroke="#00B050" stroke-width="0.9"/>
<path d="M337.60,346.60 L339.05,348.30 L337.60,350.00 L336.16,348.30 Z" fill="#0A50FF"/>
<path d="M337.60,415.50 L339.05,417.20 L337.60,418.90 L336.16,417.20 Z" fill="#0A50FF"/>
<circle cx="337.6" cy="382.3" r="1.75" fill="#FF0000"/>
<rect x="350.00" y="437.95" width="8" height="1.7" fill="#00B050"/>
<path d="M354.00,436.60 L355.55,438.80 L354.00,441.00 L352.45,438.80 Z" fill="#0A50FF"/>
<rect x="365.80" y="438.45" width="8" height="1.7" fill="#00B050"/>
<path d="M369.80,437.10 L371.35,439.30 L369.80,441.50 L368.25,439.30 Z" fill="#0A50FF"/>
<rect x="381.90" y="437.35" width="8" height="1.7" fill="#00B050"/>
<path d="M385.90,436.00 L387.45,438.20 L385.90,440.40 L384.35,438.20 Z" fill="#0A50FF"/>
<rect x="398.30" y="437.55" width="8" height="1.7" fill="#00B050"/>
<path d="M402.30,436.20 L403.85,438.40 L402.30,440.60 L400.75,438.40 Z" fill="#0A50FF"/>
<rect x="414.70" y="415.85" width="8" height="1.7" fill="#00B050"/>
<path d="M418.70,414.50 L420.25,416.70 L418.70,418.90 L417.15,416.70 Z" fill="#0A50FF"/>
<path d="M224.00,423.30 L224.00,412.30 A11,11 0 1 1 214.77,429.29 Z" fill="#FF0000" stroke="#3a3a3a" stroke-width="0.45" stroke-linejoin="round"/>
<path d="M224.00,423.30 L214.77,429.29 A11,11 0 0 1 219.35,413.33 Z" fill="#FFFF00" stroke="#3a3a3a" stroke-width="0.45" stroke-linejoin="round"/>
<path d="M224.00,423.30 L219.35,413.33 A11,11 0 0 1 224.00,412.30 Z" fill="#7B2DAE" stroke="#3a3a3a" stroke-width="0.45" stroke-linejoin="round"/>
<path d="M241.00,406.50 L241.00,395.40 A11.1,11.1 0 0 1 249.75,399.67 Z" fill="#FF0000" stroke="#3a3a3a" stroke-width="0.45" stroke-linejoin="round"/>
<path d="M241.00,406.50 L249.75,399.67 A11.1,11.1 0 0 1 245.69,416.56 Z" fill="#70D040" stroke="#3a3a3a" stroke-width="0.45" stroke-linejoin="round"/>
<path d="M241.00,406.50 L245.69,416.56 A11.1,11.1 0 0 1 231.39,412.05 Z" fill="#7B2DAE" stroke="#3a3a3a" stroke-width="0.45" stroke-linejoin="round"/>
<path d="M241.00,406.50 L231.39,412.05 A11.1,11.1 0 0 1 241.00,395.40 Z" fill="#FF7D0A" stroke="#3a3a3a" stroke-width="0.45" stroke-linejoin="round"/>
<circle cx="257.6" cy="321.7" r="11.2" fill="#70D040" stroke="#3a3a3a" stroke-width="0.45"/>
<line x1="257.6" y1="321.7" x2="257.6" y2="310.5" stroke="#444" stroke-width="0.4"/>
<path d="M272.90,421.90 L273.63,411.53 A10.4,10.4 0 0 1 277.46,431.25 Z" fill="#7B2DAE" stroke="#3a3a3a" stroke-width="0.45" stroke-linejoin="round"/>
<path d="M272.90,421.90 L277.46,431.25 A10.4,10.4 0 1 1 273.63,411.53 Z" fill="#FF7D0A" stroke="#3a3a3a" stroke-width="0.45" stroke-linejoin="round"/>
<path d="M288.60,405.60 L288.60,394.60 A11,11 0 1 1 278.20,409.18 Z" fill="#7B2DAE" stroke="#3a3a3a" stroke-width="0.45" stroke-linejoin="round"/>
<path d="M288.60,405.60 L278.20,409.18 A11,11 0 0 1 288.60,394.60 Z" fill="#FF7D0A" stroke="#3a3a3a" stroke-width="0.45" stroke-linejoin="round"/>
<circle cx="305.3" cy="422.2" r="11.1" fill="#70D040" stroke="#3a3a3a" stroke-width="0.45"/>
<line x1="305.3" y1="422.2" x2="305.3" y2="411.09999999999997" stroke="#444" stroke-width="0.4"/>
<line x1="305.3" y1="422.2" x2="305.3" y2="411.3" stroke="#7a3a10" stroke-width="0.6"/>
<circle cx="321.6" cy="404.5" r="11.3" fill="#FF0000" stroke="#3a3a3a" stroke-width="0.45"/>
<line x1="321.6" y1="404.5" x2="321.6" y2="393.2" stroke="#444" stroke-width="0.4"/>
<circle cx="337.2" cy="334.4" r="10.9" fill="#FF0000" stroke="#3a3a3a" stroke-width="0.45"/>
<line x1="337.2" y1="334.4" x2="337.2" y2="323.5" stroke="#444" stroke-width="0.4"/>
<circle cx="353.9" cy="423.8" r="11.1" fill="#7B2DAE" stroke="#3a3a3a" stroke-width="0.45"/>
<line x1="353.9" y1="423.8" x2="353.9" y2="412.7" stroke="#444" stroke-width="0.4"/>
<circle cx="369.8" cy="404.6" r="11.2" fill="#FF0000" stroke="#3a3a3a" stroke-width="0.45"/>
<line x1="369.8" y1="404.6" x2="369.8" y2="393.40000000000003" stroke="#444" stroke-width="0.4"/>
<path d="M385.80,424.20 L385.80,413.30 A10.9,10.9 0 0 1 390.58,414.40 Z" fill="#FF0000" stroke="#3a3a3a" stroke-width="0.45" stroke-linejoin="round"/>
<path d="M385.80,424.20 L390.58,414.40 A10.9,10.9 0 0 1 396.17,427.57 Z" fill="#FFFF00" stroke="#3a3a3a" stroke-width="0.45" stroke-linejoin="round"/>
<path d="M385.80,424.20 L396.17,427.57 A10.9,10.9 0 1 1 385.80,413.30 Z" fill="#7B2DAE" stroke="#3a3a3a" stroke-width="0.45" stroke-linejoin="round"/>
<path d="M401.70,404.60 L401.70,393.70 A10.9,10.9 0 0 1 404.52,394.07 Z" fill="#FF0000" stroke="#3a3a3a" stroke-width="0.45" stroke-linejoin="round"/>
<path d="M401.70,404.60 L404.52,394.07 A10.9,10.9 0 0 1 408.41,396.01 Z" fill="#FFFF00" stroke="#3a3a3a" stroke-width="0.45" stroke-linejoin="round"/>
<path d="M401.70,404.60 L408.41,396.01 A10.9,10.9 0 1 1 401.70,393.70 Z" fill="#7B2DAE" stroke="#3a3a3a" stroke-width="0.45" stroke-linejoin="round"/>
<path d="M418.70,387.80 L418.70,376.90 A10.9,10.9 0 0 1 419.84,376.96 Z" fill="#70D040" stroke="#3a3a3a" stroke-width="0.45" stroke-linejoin="round"/>
<path d="M418.70,387.80 L419.84,376.96 A10.9,10.9 0 1 1 418.70,376.90 Z" fill="#7B2DAE" stroke="#3a3a3a" stroke-width="0.45" stroke-linejoin="round"/>
<rect x="245.5" y="293.8" width="23.80" height="8.00" fill="#fff" stroke="#FF0000" stroke-width="1.3"/>
<text x="249.95" y="299.80" font-size="5.8" font-weight="bold" textLength="14.1" lengthAdjust="spacingAndGlyphs" font-family="Liberation Serif, serif">24411</text>
<text transform="translate(225.30,482.70) rotate(-90)" font-size="7" font-weight="bold" textLength="31.9" lengthAdjust="spacingAndGlyphs" font-family="Liberation Serif, serif">Bain-Tsagan</text>
<text transform="translate(242.30,482.70) rotate(-90)" font-size="7" font-weight="bold" textLength="17.7" lengthAdjust="spacingAndGlyphs" font-family="Liberation Serif, serif">Nozhii</text>
<text transform="translate(256.90,482.70) rotate(-90)" font-size="7" font-weight="bold" textLength="28.8" lengthAdjust="spacingAndGlyphs" font-family="Liberation Serif, serif">Kudzhertaj</text>
<text transform="translate(274.30,482.70) rotate(-90)" font-size="7" font-weight="bold" textLength="19.4" lengthAdjust="spacingAndGlyphs" font-family="Liberation Serif, serif">Shelata</text>
<text transform="translate(289.50,482.70) rotate(-90)" font-size="7" font-weight="bold" textLength="30.8" lengthAdjust="spacingAndGlyphs" font-family="Liberation Serif, serif">Haraganash</text>
<text transform="translate(306.20,482.70) rotate(-90)" font-size="7" font-weight="bold" textLength="28.4" lengthAdjust="spacingAndGlyphs" font-family="Liberation Serif, serif">Berzinskoe</text>
<text transform="translate(321.80,482.70) rotate(-90)" font-size="7" font-weight="bold" textLength="24.9" lengthAdjust="spacingAndGlyphs" font-family="Liberation Serif, serif">Ukshinda</text>
<text transform="translate(338.40,482.70) rotate(-90)" font-size="7" font-weight="bold" textLength="34.4" lengthAdjust="spacingAndGlyphs" font-family="Liberation Serif, serif">Shvarcivskoe</text>
<text transform="translate(355.50,482.70) rotate(-90)" font-size="7" font-weight="bold" textLength="27.9" lengthAdjust="spacingAndGlyphs" font-family="Liberation Serif, serif">Dabosa-Nor</text>
<text transform="translate(370.70,482.70) rotate(-90)" font-size="7" font-weight="bold" textLength="22.5" lengthAdjust="spacingAndGlyphs" font-family="Liberation Serif, serif">Hilgonta</text>
<text transform="translate(387.30,482.70) rotate(-90)" font-size="7" font-weight="bold" textLength="26.8" lengthAdjust="spacingAndGlyphs" font-family="Liberation Serif, serif">Gerbunka</text>
<text transform="translate(403.50,482.70) rotate(-90)" font-size="7" font-weight="bold" textLength="34.4" lengthAdjust="spacingAndGlyphs" font-family="Liberation Serif, serif">Shihalin-Nur</text>
<text transform="translate(419.10,482.70) rotate(-90)" font-size="7" font-weight="bold" textLength="41.3" lengthAdjust="spacingAndGlyphs" font-family="Liberation Serif, serif">Barun-Shivertuj</text>
<path d="M220.40,485.10 C220.60,487.95 222.00,488.27 224.90,488.27 L234.75,488.27 C237.75,488.27 239.45,489.07 239.75,491.20 C240.05,489.07 241.75,488.27 244.75,488.27 L254.60,488.27 C257.50,488.27 258.90,487.95 259.10,485.10" fill="none" stroke="#111" stroke-width="1.15" stroke-linecap="round"/>
<text x="239.80" y="498.25" font-size="6.4" font-weight="bold" text-anchor="middle" font-family="Liberation Serif, serif">Soda</text>
<text x="239.80" y="504.95" font-size="6.4" font-weight="bold" text-anchor="middle" font-family="Liberation Serif, serif">I subtype</text>
<path d="M266.20,485.10 C266.40,487.95 267.80,488.27 270.70,488.27 L275.20,488.27 C278.20,488.27 279.90,489.07 280.20,491.20 C280.50,489.07 282.20,488.27 285.20,488.27 L289.70,488.27 C292.60,488.27 294.00,487.95 294.20,485.10" fill="none" stroke="#111" stroke-width="1.15" stroke-linecap="round"/>
<text x="280.30" y="498.25" font-size="6.4" font-weight="bold" text-anchor="middle" font-family="Liberation Serif, serif">Soda</text>
<text x="280.30" y="504.95" font-size="6.4" font-weight="bold" text-anchor="middle" font-family="Liberation Serif, serif">II subtype</text>
<path d="M301.60,485.10 C301.80,487.95 303.20,488.27 306.10,488.27 L316.70,488.27 C319.70,488.27 321.40,489.07 321.70,491.20 C322.00,489.07 323.70,488.27 326.70,488.27 L337.30,488.27 C340.20,488.27 341.60,487.95 341.80,485.10" fill="none" stroke="#111" stroke-width="1.15" stroke-linecap="round"/>
<text x="321.50" y="498.25" font-size="6.4" font-weight="bold" text-anchor="middle" font-family="Liberation Serif, serif">Soda</text>
<text x="321.50" y="504.95" font-size="6.4" font-weight="bold" text-anchor="middle" font-family="Liberation Serif, serif">III subtype</text>
<path d="M349.40,485.10 C349.60,487.95 351.00,488.27 353.90,488.27 L364.55,488.27 C367.55,488.27 369.25,489.07 369.55,491.20 C369.85,489.07 371.55,488.27 374.55,488.27 L385.20,488.27 C388.10,488.27 389.50,487.95 389.70,485.10" fill="none" stroke="#111" stroke-width="1.15" stroke-linecap="round"/>
<text x="369.90" y="501.90" font-size="6.4" font-weight="bold" text-anchor="middle" font-family="Liberation Serif, serif">Chloride</text>
<path d="M396.70,485.10 C396.90,487.95 398.30,488.27 401.20,488.27 L406.55,488.27 C409.55,488.27 411.25,489.07 411.55,491.20 C411.85,489.07 413.55,488.27 416.55,488.27 L421.90,488.27 C424.80,488.27 426.20,487.95 426.40,485.10" fill="none" stroke="#111" stroke-width="1.15" stroke-linecap="round"/>
<text x="410.80" y="501.90" font-size="6.4" font-weight="bold" text-anchor="middle" font-family="Liberation Serif, serif">Sulphate</text>
<rect x="19.9" y="524.7" width="24.50" height="7.40" fill="#fff" stroke="#FF0000" stroke-width="1.3"/>
<text x="25.55" y="530.80" font-size="5.8" font-weight="bold" textLength="14.1" lengthAdjust="spacingAndGlyphs" font-family="Liberation Serif, serif">61404</text>
<text x="48.3" y="531.3" font-size="9.7" font-weight="bold" font-family="Liberation Serif, serif">- mean</text>
<rect x="93.5" y="516.6" width="4.8" height="4.8" fill="#FF0000" stroke="#2a2a2a" stroke-width="0.7"/>
<text x="100.9" y="521.5" font-size="9.3" textLength="53.3" lengthAdjust="spacingAndGlyphs" stroke="#000" stroke-width="0.12" font-family="Liberation Serif, serif">Cyanobacteria</text>
<rect x="93.5" y="535.7" width="4.8" height="4.8" fill="#FFFF00" stroke="#2a2a2a" stroke-width="0.7"/>
<text x="100.9" y="540.6" font-size="9.3" textLength="57.1" lengthAdjust="spacingAndGlyphs" stroke="#000" stroke-width="0.12" font-family="Liberation Serif, serif">Bacillariophyta</text>
<rect x="174.8" y="523.9" width="4.8" height="4.8" fill="#70D040" stroke="#2a2a2a" stroke-width="0.7"/>
<text x="182.20000000000002" y="528.8" font-size="9.3" textLength="48.2" lengthAdjust="spacingAndGlyphs" stroke="#000" stroke-width="0.12" font-family="Liberation Serif, serif">Cryptophyta</text>
<rect x="243.3" y="517.3" width="4.8" height="4.8" fill="#7B2DAE" stroke="#2a2a2a" stroke-width="0.7"/>
<text x="250.70000000000002" y="522.1999999999999" font-size="9.3" textLength="46.9" lengthAdjust="spacingAndGlyphs" stroke="#000" stroke-width="0.12" font-family="Liberation Serif, serif">Chlorophyta</text>
<rect x="243.3" y="535.9" width="4.8" height="4.8" fill="#FF7D0A" stroke="#2a2a2a" stroke-width="0.7"/>
<text x="250.70000000000002" y="540.8" font-size="9.3" textLength="51.7" lengthAdjust="spacingAndGlyphs" stroke="#000" stroke-width="0.12" font-family="Liberation Serif, serif">Euglenophyta</text>
<text x="345.8" y="527.6" font-size="6.2" font-weight="bold" text-anchor="end" font-family="Liberation Serif, serif">mediana -</text>
<line x1="352.3" y1="517.7" x2="352.3" y2="532.9" stroke="#00B050" stroke-width="1.1"/>
<rect x="348.80" y="522" width="7" height="7.10" fill="#fff" stroke="#00B050" stroke-width="1.05"/>
<line x1="348.80" y1="525.6" x2="355.80" y2="525.6" stroke="#00B050" stroke-width="0.9"/>
<path d="M352.30,516.00 L353.75,517.70 L352.30,519.40 L350.86,517.70 Z" fill="#0A50FF"/>
<path d="M352.30,531.20 L353.75,532.90 L352.30,534.60 L350.86,532.90 Z" fill="#0A50FF"/>
<circle cx="352.3" cy="525.6" r="1.75" fill="#FF0000"/>
<text x="358.4" y="519.7" font-size="5.8" font-weight="bold" font-family="Liberation Serif, serif">- min</text>
<text x="358.4" y="528" font-size="5.8" font-weight="bold" font-family="Liberation Serif, serif">- mean</text>
<text x="358.4" y="536.2" font-size="5.8" font-weight="bold" font-family="Liberation Serif, serif">- max</text>
</svg></body></html>
